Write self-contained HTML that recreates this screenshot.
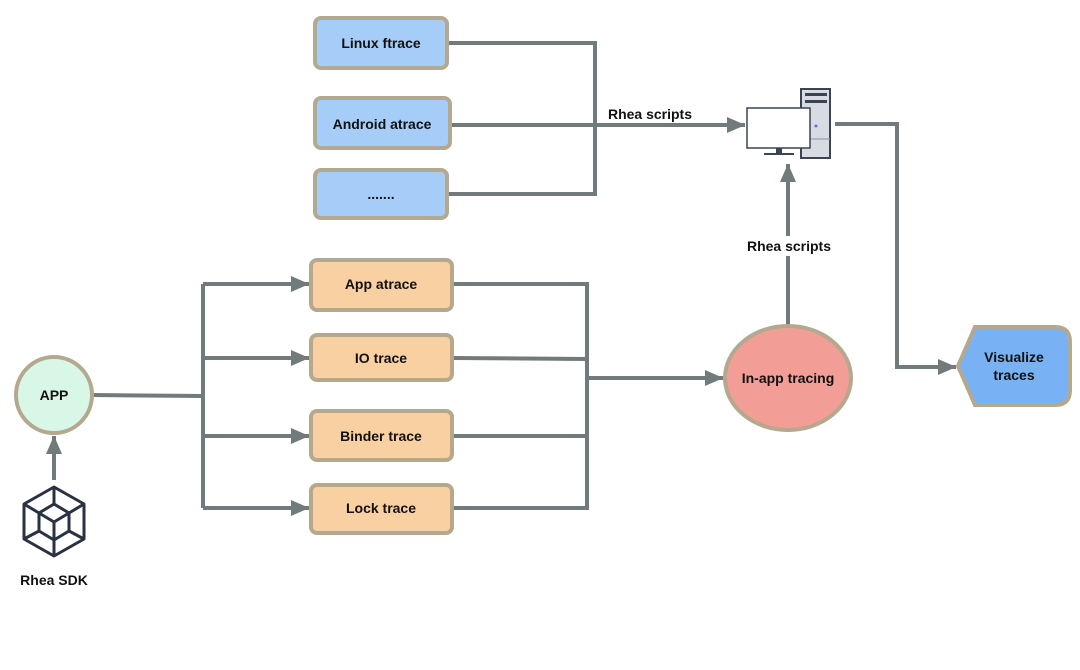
<!DOCTYPE html>
<html><head><meta charset="utf-8"><style>
html,body{margin:0;padding:0;background:#fff;}
svg{display:block;font-family:"Liberation Sans",Arial,sans-serif;font-weight:bold;}
</style></head><body>
<svg width="1080" height="670" viewBox="0 0 1080 670" xmlns="http://www.w3.org/2000/svg">
<defs>
<marker id="a" markerWidth="6" markerHeight="6" refX="4.5" refY="3" orient="auto" markerUnits="strokeWidth">
<path d="M0,1 L4.6,3 L0,5 Z" fill="#717b7b"/>
</marker>
</defs>
<g stroke="#717b7b" stroke-width="4" fill="none">
<polyline points="447,43 595,43 595,194 447,194"/>
<line x1="450" y1="125" x2="745" y2="125" marker-end="url(#a)"/>
<polyline points="835,124 897,124 897,367 956,367" marker-end="url(#a)"/>
<line x1="788" y1="325" x2="788" y2="164" marker-end="url(#a)"/>
<polyline points="92,395 203,396"/>
<line x1="203" y1="284" x2="203" y2="508"/>
<line x1="203" y1="284" x2="309" y2="284" marker-end="url(#a)"/>
<line x1="203" y1="358" x2="309" y2="358" marker-end="url(#a)"/>
<line x1="203" y1="436" x2="309" y2="436" marker-end="url(#a)"/>
<line x1="203" y1="508" x2="309" y2="508" marker-end="url(#a)"/>
<polyline points="452,284 587,284 587,508 452,508"/>
<line x1="452" y1="358" x2="587" y2="359"/>
<line x1="452" y1="436" x2="587" y2="436"/>
<line x1="587" y1="378" x2="723" y2="378" marker-end="url(#a)"/>
<line x1="54" y1="480" x2="54" y2="436" marker-end="url(#a)"/>
</g>
<g fill="#a6cdf8" stroke="#b4a88e" stroke-width="4">
<rect x="315" y="18" width="132" height="50" rx="6"/>
<rect x="315" y="98" width="135" height="50" rx="6"/>
<rect x="315" y="170" width="132" height="48" rx="6"/>
</g>
<g fill="#f8d0a2" stroke="#b4a88e" stroke-width="4">
<rect x="311" y="260" width="141" height="50" rx="6"/>
<rect x="311" y="335" width="141" height="45" rx="6"/>
<rect x="311" y="411" width="141" height="49" rx="6"/>
<rect x="311" y="485" width="141" height="48" rx="6"/>
</g>
<ellipse cx="788" cy="378" rx="63" ry="52" fill="#f29e96" stroke="#b4a88e" stroke-width="4"/>
<circle cx="54" cy="395" r="38" fill="#d9f7e6" stroke="#b4a88e" stroke-width="4"/>
<path d="M975,327 L1055,327 Q1070,327 1070,342 L1070,390 Q1070,405 1055,405 L975,405 L958,366 Z" fill="#78b2f5" stroke="#b4a88e" stroke-width="4"/>
<rect x="801" y="89" width="29" height="69" fill="#d8dce2" stroke="#3a4452" stroke-width="2"/>
<rect x="805" y="93" width="22" height="3" fill="#3a4452"/>
<rect x="805" y="100" width="22" height="3" fill="#3a4452"/>
<line x1="801" y1="139" x2="830" y2="139" stroke="#8a929c" stroke-width="1"/>
<circle cx="816" cy="126" r="1.5" fill="#3f7fe0"/>
<rect x="747" y="108" width="63" height="40" fill="#fff" stroke="#3a4452" stroke-width="1.5"/>
<rect x="776" y="148" width="6" height="5" fill="#3a4452"/>
<rect x="764" y="153" width="30" height="2" fill="#3a4452"/>
<g fill="none" stroke="#2a3140" stroke-width="3" stroke-linejoin="round">
<path d="M54,487 L84,504 L84,539 L54,556 L24,539 L24,504 Z"/>
<path d="M54,504 L69,513 L69,531 L54,540 L39,531 L39,513 Z"/>
<path d="M54,487 L54,504 M84,504 L69,513 M84,539 L69,531 M54,556 L54,540 M24,539 L39,531 M24,504 L39,513"/>
<path d="M39,513 L54,522 L69,513 M54,522 L54,540"/>
</g>
<rect x="746" y="236" width="86" height="20" fill="#fff"/>
<g font-size="14" fill="#111" text-anchor="middle">
<text x="381" y="48">Linux ftrace</text>
<text x="382" y="129">Android atrace</text>
<text x="381" y="199">.......</text>
<text x="381" y="289">App atrace</text>
<text x="381" y="363">IO trace</text>
<text x="381" y="441">Binder trace</text>
<text x="381" y="513">Lock trace</text>
<text x="788" y="383">In-app tracing</text>
<text x="54" y="400">APP</text>
<text x="650" y="119">Rhea scripts</text>
<text x="789" y="251">Rhea scripts</text>
<text x="1014" y="362">Visualize</text>
<text x="1014" y="380">traces</text>
<text x="54" y="585">Rhea SDK</text>
</g>
</svg>
</body></html>
